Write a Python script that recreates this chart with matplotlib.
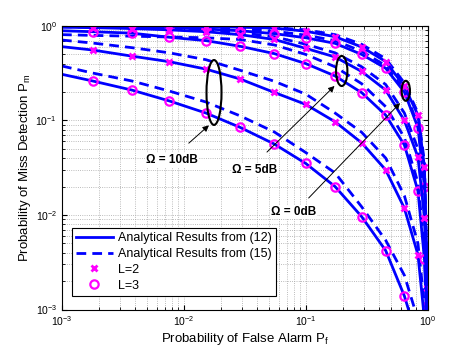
import matplotlib
matplotlib.use("Agg")
import matplotlib.pyplot as plt
from matplotlib.lines import Line2D
from matplotlib.patches import Ellipse

plt.rcParams["font.family"] = ["Liberation Sans", "DejaVu Sans"]
plt.rcParams["mathtext.default"] = "regular"

# false alarm probabilities (shared grid), markers on all but the first point
pf = [0.001, 0.00178, 0.00373, 0.00758, 0.0151, 0.0288, 0.055, 0.0995,
      0.173, 0.286, 0.45, 0.64, 0.827, 0.935, 0.99]

# Omega = 0 dB
s0_l3 = [0.995, 0.99, 0.985, 0.965, 0.93, 0.89, 0.83, 0.75, 0.655, 0.50, 0.357, 0.20, 0.084, 0.02, 0.0011]
s0_l2 = [0.999, 0.998, 0.996, 0.99, 0.985, 0.97, 0.95, 0.88, 0.77, 0.60, 0.42, 0.23, 0.114, 0.032, 0.0017]
d0_l3 = [0.998, 0.995, 0.99, 0.98, 0.96, 0.93, 0.88, 0.80, 0.70, 0.54, 0.38, 0.21, 0.09, 0.024, 0.0012]
d0_l2 = [1.0, 0.999, 0.998, 0.995, 0.99, 0.98, 0.96, 0.91, 0.81, 0.64, 0.45, 0.25, 0.12, 0.036, 0.0018]

# Omega = 5 dB
s5_l3 = [0.89, 0.87, 0.84, 0.76, 0.70, 0.61, 0.51, 0.40, 0.296, 0.197, 0.114, 0.055, 0.018, 0.0034, 0.0004]
d5_l3 = [0.81, 0.795, 0.78, 0.765, 0.75, 0.72, 0.63, 0.50, 0.37, 0.245, 0.14, 0.066, 0.022, 0.0045, 0.0005]
s5_l2 = [0.97, 0.96, 0.94, 0.91, 0.87, 0.81, 0.72, 0.58, 0.47, 0.33, 0.21, 0.10, 0.041, 0.0094, 0.0006]
d5_l2 = [0.98, 0.975, 0.96, 0.94, 0.90, 0.85, 0.77, 0.64, 0.52, 0.37, 0.24, 0.12, 0.05, 0.012, 0.0007]

# Omega = 10 dB
s10_l3 = [0.308, 0.262, 0.210, 0.161, 0.120, 0.0846, 0.0563, 0.0351, 0.020, 0.0096, 0.0042, 0.00139, 0.00047, 1e-5, 1e-6]
d10_l3 = [0.377, 0.318, 0.262, 0.205, 0.157, 0.112, 0.0756, 0.0458, 0.0279, 0.0122, 0.0054, 0.0023, 0.00078, 1e-5, 1e-6]
s10_l2 = [0.604, 0.557, 0.48, 0.419, 0.35, 0.275, 0.198, 0.148, 0.097, 0.058, 0.030, 0.0118, 0.0038, 0.00079, 1e-5]
d10_l2 = [0.71, 0.66, 0.59, 0.52, 0.44, 0.34, 0.26, 0.19, 0.12, 0.075, 0.04, 0.016, 0.005, 0.0011, 1e-5]

legend_labels = ["Analytical Results from (12)", "Analytical Results from (15)", "L=2", "L=3"]
blue = "#0000ff"
mag = "#ff00ff"

fig = plt.figure(figsize=(4.74, 3.56), dpi=100)
ax = fig.add_axes([0.1308, 0.1306, 0.7722, 0.7964])

# dashed curves (eq. 15)
for d in [d0_l3, d0_l2, d5_l3, d5_l2, d10_l3, d10_l2]:
    ax.plot(pf, d, color=blue, lw=2, ls=(0, (3.5, 2.2)))

# solid curves (eq. 12) with simulation markers
for s in [s0_l3, s5_l3, s10_l3]:
    ax.plot(pf, s, color=blue, lw=2)
    ax.plot(pf[1:], s[1:], ls="none", marker="o", ms=6, mfc="none", mec=mag, mew=1.6)
for s in [s0_l2, s5_l2, s10_l2]:
    ax.plot(pf, s, color=blue, lw=2)
    ax.plot(pf[1:], s[1:], ls="none", marker="x", ms=4.5, mec=mag, mew=2)

ax.set_xscale("log")
ax.set_yscale("log")
ax.set_xlim(1e-3, 1)
ax.set_ylim(1e-3, 1)
ax.grid(True, which="both", ls=":", color="0.65", lw=0.6)
ax.tick_params(which="both", direction="in", top=True, right=True, labelsize=7.5)
for sp in ax.spines.values():
    sp.set_linewidth(0.8)

ax.set_xlabel(r"Probability of False Alarm P$_f$", fontsize=9.5, labelpad=2)
ax.set_ylabel(r"Probability of Miss Detection P$_m$", fontsize=9.5, labelpad=2)

# ellipses and labels for each Omega group
groups = [
    ("\u03a9 = 10dB", (0.4153, 0.7654), 0.041, 0.229, (0.3407, 0.5802), (0.4071, 0.6561), (0.2997, 0.5273)),
    ("\u03a9 = 5dB", (0.7642, 0.8413), 0.031, 0.106, (0.5546, 0.5485), (0.750, 0.7954), (0.5273, 0.4921)),
    ("\u03a9 = 0dB", (0.9393, 0.7714), 0.0227, 0.0705, (0.6686, 0.3862), (0.929, 0.7354), (0.632, 0.345)),
]
for label, c, w, h, start, end, tpos in groups:
    ax.add_patch(Ellipse(c, w, h, transform=ax.transAxes, fill=False, ec="black", lw=1.5, zorder=5))
    ax.annotate("", xy=end, xytext=start, xycoords="axes fraction",
                arrowprops=dict(arrowstyle="-|>", color="black", lw=0.7, mutation_scale=9), zorder=5)
    ax.text(tpos[0], tpos[1], label, transform=ax.transAxes, ha="center", va="center",
            fontsize=8.5, fontweight="bold", zorder=6,
            bbox=dict(fc="white", ec="none", pad=0.5))

handles = [
    Line2D([], [], color=blue, lw=2),
    Line2D([], [], color=blue, lw=2, ls=(0, (3.5, 2.2))),
    Line2D([], [], ls="none", marker="x", ms=4.5, mec=mag, mew=2),
    Line2D([], [], ls="none", marker="o", ms=6, mfc="none", mec=mag, mew=1.6),
]
leg = ax.legend(handles, legend_labels, loc="lower left", bbox_to_anchor=(0.027, 0.048),
                fontsize=9, handlelength=2.9, borderaxespad=0, fancybox=False,
                framealpha=1, edgecolor="black", labelspacing=0.3, borderpad=0.35,
                handletextpad=0.4)
leg.get_frame().set_linewidth(0.8)
leg.set_zorder(10)

fig.savefig("out.png", dpi=100)
